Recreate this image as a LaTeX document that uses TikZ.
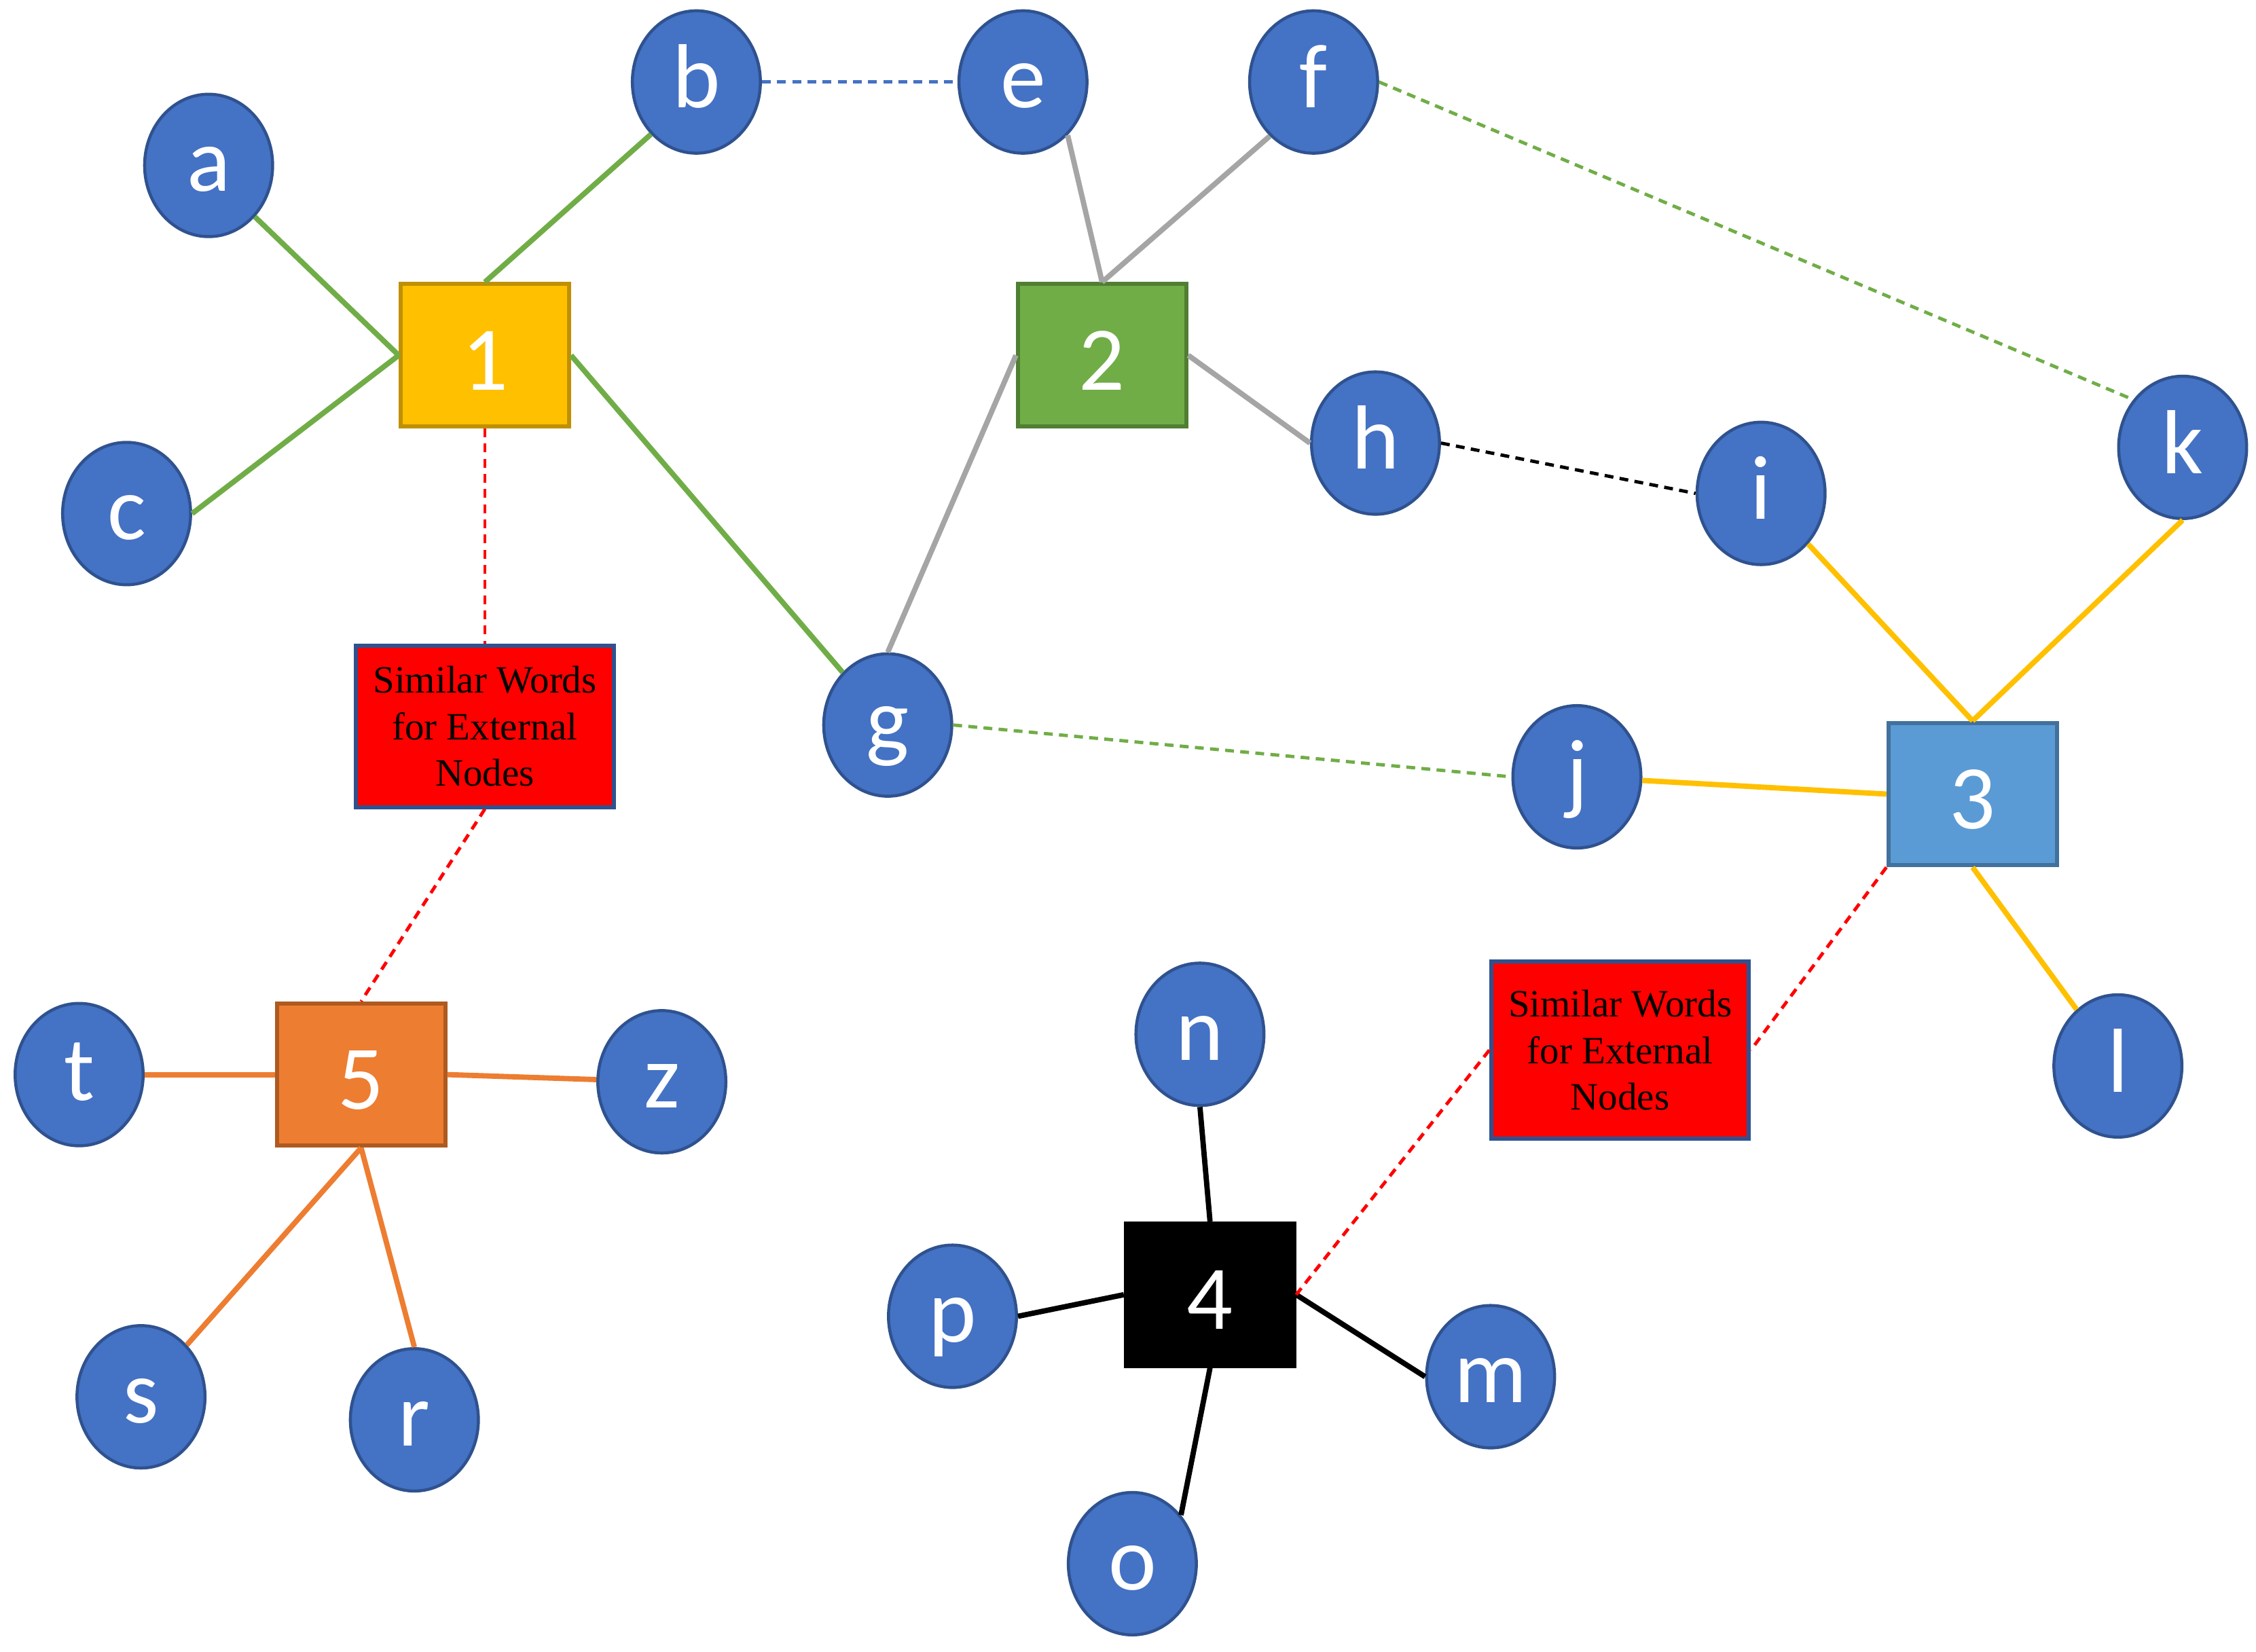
\documentclass[tikz,border=0pt]{standalone}
\usepackage{fontspec}
\setmainfont{Carlito}
\newfontfamily\notefont{Liberation Serif}
\usetikzlibrary{shapes.geometric, positioning}
\definecolor{leafblue}{RGB}{68, 114, 196}
\definecolor{leafborder}{RGB}{47, 82, 143}
\definecolor{hubyellow}{RGB}{255, 192, 0}
\definecolor{hubyellowborder}{RGB}{191, 144, 0}
\definecolor{hubgreen}{RGB}{112, 173, 71}
\definecolor{hubgreenborder}{RGB}{80, 126, 50}
\definecolor{hubblue}{RGB}{91, 155, 213}
\definecolor{hubblueborder}{RGB}{65, 113, 156}
\definecolor{huborange}{RGB}{237, 125, 49}
\definecolor{huborangeborder}{RGB}{174, 90, 33}
\definecolor{linkgray}{RGB}{165, 165, 165}
\tikzstyle{leaf} = [ellipse, minimum width=1.78cm, minimum height=1.98cm, inner sep=0pt, draw=leafborder, line width=1.2pt, fill=leafblue, text=white, font=\fontsize{36}{40}\selectfont, text height=0.8cm, text depth=0.08cm]
\tikzstyle{hub} = [rectangle, minimum width=2.34cm, minimum height=1.98cm, inner sep=0pt, line width=1.6pt, text=white, font=\fontsize{36}{40}\selectfont, text height=1.0cm, text depth=0.04cm]
\tikzstyle{note} = [rectangle, minimum width=3.58cm, inner sep=0pt, draw=leafborder, line width=1.6pt, fill=red, text=black, align=center, font=\notefont\fontsize{15.3}{18.4}\selectfont]
\tikzstyle{link} = [line width=2.1pt]
\tikzstyle{dashlink} = [line width=1.3pt, dash pattern=on 3.5pt off 2.5pt]

\begin{document}
\begin{tikzpicture}[x=0.02cm, y=-0.02cm]
\useasboundingbox (0,0) rectangle (1568,1148);

% Hubs
\node (n1) [hub, fill=hubyellow, draw=hubyellowborder] at (337,247) {1};
\node (n2) [hub, fill=hubgreen, draw=hubgreenborder] at (766,247) {2};
\node (n3) [hub, fill=hubblue, draw=hubblueborder] at (1371,552) {3};
\node (n4) [hub, fill=black, draw=black] at (841,900) {4};
\node (n5) [hub, fill=huborange, draw=huborangeborder] at (251,747) {5};

% Words
\node (a) [leaf] at (145,115) {a};
\node (b) [leaf] at (484,57) {b};
\node (c) [leaf] at (88,357) {c};
\node (e) [leaf] at (711,57) {e};
\node (f) [leaf] at (913,57) {f};
\node (g) [leaf] at (617,504) {g};
\node (h) [leaf] at (956,308) {h};
\node (i) [leaf] at (1224,343) {i};
\node (j) [leaf] at (1096,540) {j};
\node (k) [leaf] at (1517,311) {k};
\node (l) [leaf] at (1472,741) {l};
\node (m) [leaf] at (1036,957) {m};
\node (n) [leaf] at (834,719) {n};
\node (o) [leaf] at (787,1087) {o};
\node (p) [leaf] at (662,915) {p};
\node (r) [leaf] at (288,987) {r};
\node (s) [leaf] at (98,971) {s};
\node (t) [leaf] at (55,747) {t};
\node (z) [leaf] at (460,752) {z};

% External nodes
\node (ext1) [note, minimum height=2.24cm] at (337,505) {Similar Words\\for External\\Nodes};
\node (ext2) [note, minimum height=2.46cm] at (1126,730) {Similar Words\\for External\\Nodes};

% Links
\draw [link, hubgreen] (a.-48) -- (n1.west);
\draw [link, hubgreen] (c.east) -- (n1.west);
\draw [link, hubgreen] (b.-131) -- (n1.north);
\draw [link, hubgreen] (n1.east) -- (g);
\draw [link, linkgray] (e.-50) -- (n2.north);
\draw [link, linkgray] (f.-129) -- (n2.north);
\draw [link, linkgray] (n2.east) -- (h.west);
\draw [link, linkgray] (n2.west) -- (g.north);
\draw [link, hubyellow] (i) -- (n3.north);
\draw [link, hubyellow] (k.south) -- (n3.north);
\draw [link, hubyellow] (j) -- (n3.west);
\draw [link, hubyellow] (n3.south) -- (l);
\draw [link, black] (n.south) -- (n4.north);
\draw [link, black] (p.east) -- (n4.west);
\draw [link, black] (n4.east) -- (m.west);
\draw [link, black] (n4.south) -- (o.45);
\draw [link, huborange] (t) -- (n5.west);
\draw [link, huborange] (n5.east) -- (z);
\draw [link, huborange] (n5.south) -- (s);
\draw [link, huborange] (n5.south) -- (r.north);

% Dashed links
\draw [dashlink, leafblue] (b.east) -- (e.west);
\draw [dashlink, hubgreen] (f.east) -- (k.136);
\draw [dashlink, black] (h.east) -- (i.west);
\draw [dashlink, hubgreen] (g.east) -- (j.west);
\draw [dashlink, red] (n1.south) -- (ext1.north);
\draw [dashlink, red] (ext1.south) -- (n5.north);
\draw [dashlink, red] (n3.south west) -- (ext2.east);
\draw [dashlink, red] (ext2.west) -- (n4.east);

\end{tikzpicture}
\end{document}
